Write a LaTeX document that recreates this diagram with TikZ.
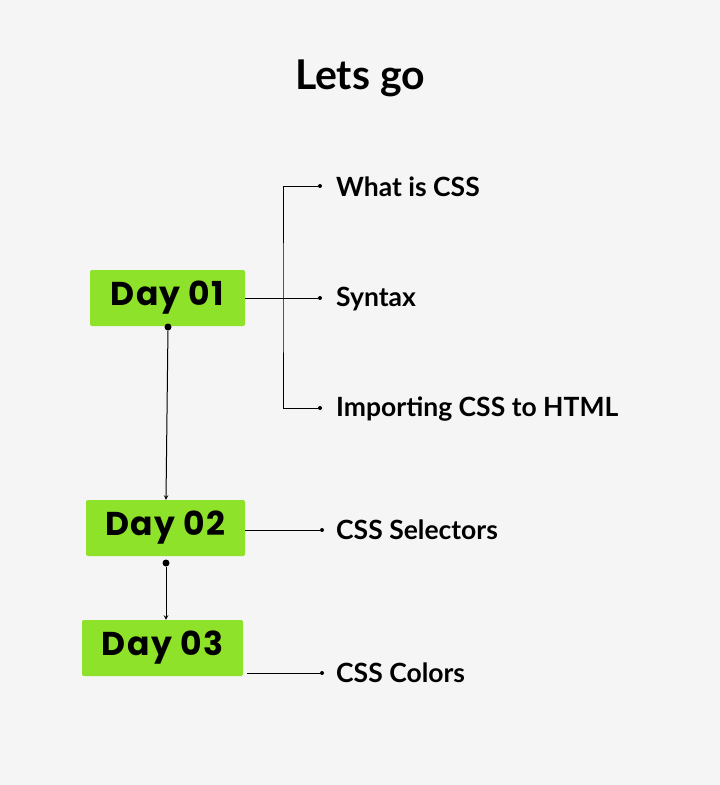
\documentclass[tikz,border=0pt]{standalone}
\usepackage{fontspec}
\setmainfont{Lato}
\newfontfamily\dayfont[LetterSpace=4]{Poppins}
\definecolor{bg}{HTML}{F5F5F5}
\definecolor{lime}{HTML}{8EE22A}
\begin{document}
\begin{tikzpicture}[x=1pt,y=-1pt,
  daybox/.style={fill=lime,rounded corners=2pt,minimum height=56pt,font=\dayfont\fontsize{33}{34}\selectfont\bfseries,inner sep=0pt},
  lbl/.style={anchor=west,font=\bfseries\fontsize{26.5}{28}\selectfont,inner sep=0pt},
  ln/.style={line width=1pt,black},
  dot/.style={circle,fill=black,inner sep=0pt,minimum size=4pt}]
\fill[bg] (0,0) rectangle (720,785);
\useasboundingbox (0,0) rectangle (720,785);
\node[font=\bfseries\fontsize{41}{44}\selectfont] (title) at (360,78) {Lets go};
\node[daybox,minimum width=155pt] (d1) at (167.5,298) {Day 01};
\node[daybox,minimum width=159pt] (d2) at (165.5,528) {Day 02};
\node[daybox,minimum width=161pt] (d3) at (162.5,648) {Day 03};
\node[dot] (p1) at (320,186) {};
\node[dot] (p2) at (320,298) {};
\node[dot] (p3) at (320,408) {};
\node[dot] (p4) at (322,530) {};
\node[dot] (p5) at (322,673) {};
\node[lbl] (t1) at (336,187) {What is CSS};
\node[lbl] (t2) at (336,299) {Syntax};
\node[lbl] (t3) at (336,409) {Importing CSS to HTML};
\node[lbl] (t4) at (336,530) {CSS Selectors};
\node[lbl] (t5) at (336,673) {CSS Colors};
\coordinate (j) at (283,298);
\draw[ln] (d1.east) -- (p2);
\draw[ln] (p1) -| (j) |- (p3);
\draw[ln] (d2.east |- p4) -- (p4);
\draw[ln] (247,673) -- (p5);
\node[dot,minimum size=7pt] (s1) at (168,327) {};
\node[dot,minimum size=7pt] (s2) at (166,563) {};
\draw[ln,-stealth] (s1) -- (d2.north -| 166,0);
\draw[ln,-stealth] (s2) -- (d3.north -| 166,0);
\end{tikzpicture}
\end{document}
